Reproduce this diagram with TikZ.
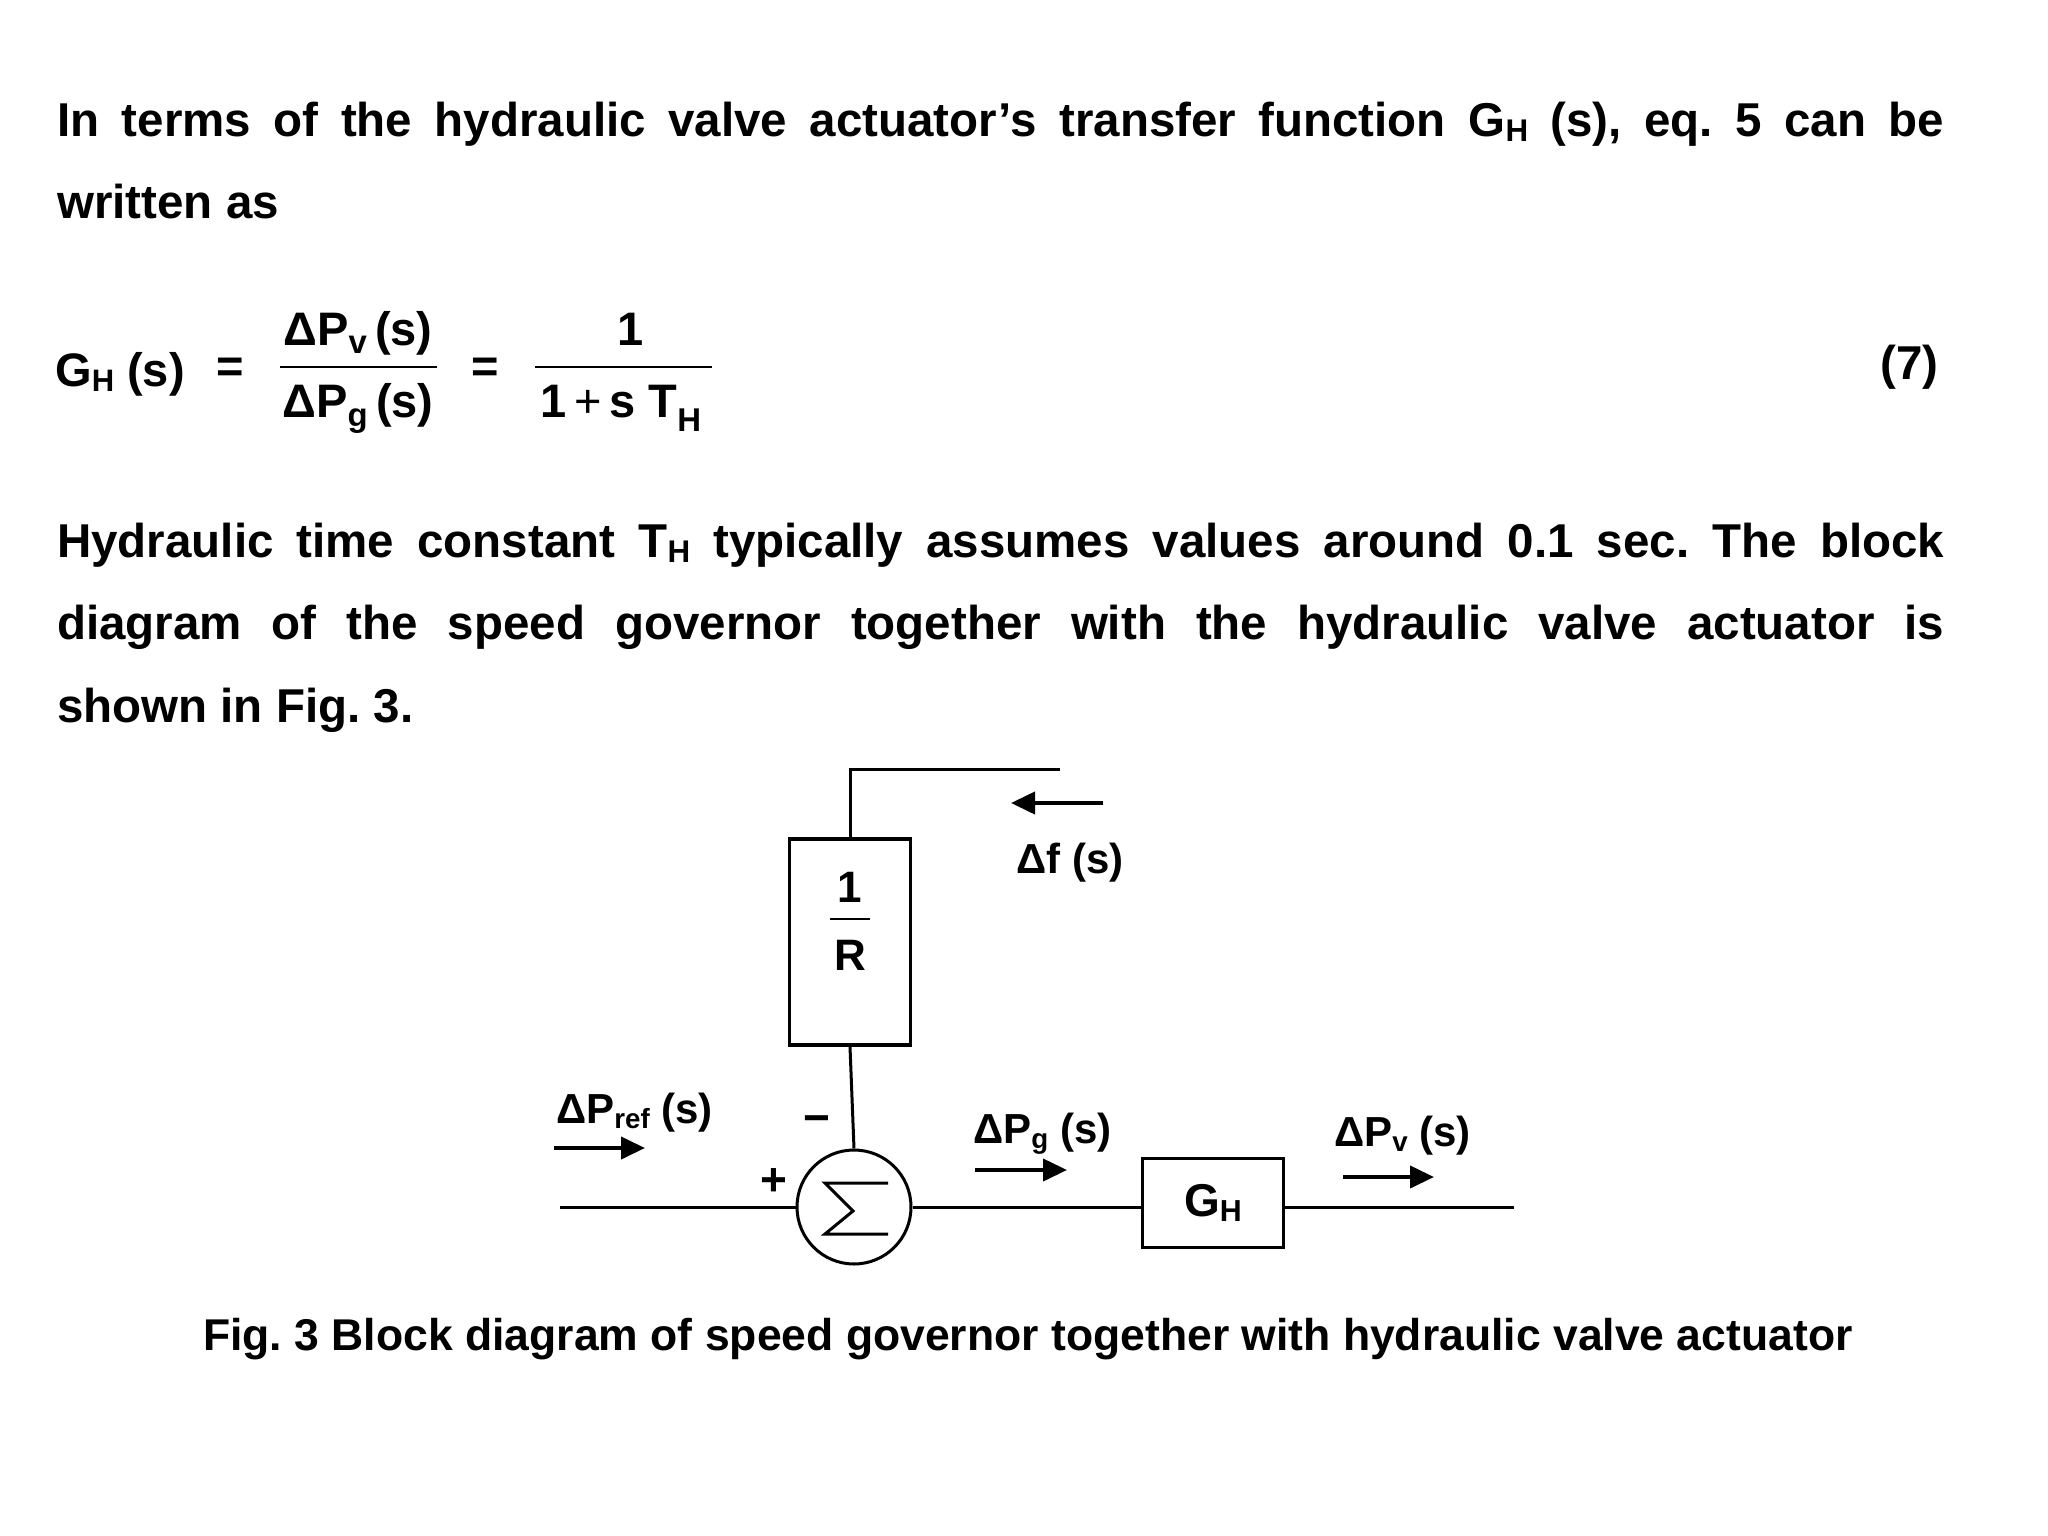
\documentclass[tikz,border=0pt]{standalone}
\usepackage{fontspec}
\setmainfont{Liberation Sans}
\usetikzlibrary{arrows.meta}

\frenchspacing
\newcommand{\bodysize}{\fontsize{47.5}{82.5}\selectfont\bfseries\tolerance=10000\hyphenpenalty=10000}
\newcommand{\eqsize}{\fontsize{47}{52}\selectfont\bfseries}
\newcommand{\labsize}{\fontsize{42}{48}\selectfont\bfseries}
\newcommand{\capsize}{\fontsize{44.5}{50}\selectfont\bfseries}
% small, slightly lowered index as in the scan
\newcommand{\sub}[1]{\raisebox{-0.12em}{\fontsize{\the\dimexpr0.66\fontdimen6\font\relax}{0pt}\selectfont #1}}

\begin{document}
\begin{tikzpicture}[x=1pt, y=-1pt,
    para/.style = {anchor=base west, inner sep=0pt, text width=1887pt, align=justify, font=\bodysize},
    txt/.style = {inner sep=0pt, font=\eqsize},
    lab/.style = {anchor=base west, inner sep=0pt, font=\labsize},
    block/.style = {draw, line width=3.3pt, inner sep=0pt},
    wire/.style = {line width=3pt},
    bar/.style = {line width=2.5pt},
    sig/.style = {line width=4pt, -{Triangle[length=24pt, width=22pt]}}]
    \useasboundingbox (0,0) rectangle (2048,1536);

    % text above the figure
    \node[para] (p1) at (57,136) {In terms of the hydraulic valve actuator's transfer function G\sub{H} (s), eq. 5 can be\linebreak written as};

    \node[txt, anchor=base west] (Gs) at (55,386) {G\sub{H} (s)};
    \node[txt] (eqA) at (230,370) {=};
    \node[txt, anchor=base] (numA) at (358,345) {ΔP\textsubscript{v}\,(s)};
    \node[txt, anchor=base] (denA) at (358,417) {ΔP\textsubscript{g}\,(s)};
    \node[txt] (eqB) at (485,370) {=};
    \node[txt, anchor=base] (numB) at (631,345) {1};
    \node[txt, anchor=base] (denB) at (621,417) {1\,{\mdseries+}\,s T\textsubscript{H}};
    \node[txt, anchor=base east, font=\bodysize] (eqno) at (1939,379) {(7)};
    \coordinate (barA1) at (280,367);
    \coordinate (barA2) at (437,367);
    \coordinate (barB1) at (535,367);
    \coordinate (barB2) at (712,367);
    \draw[bar] (barA1) -- (barA2);
    \draw[bar] (barB1) -- (barB2);

    \node[para] (p2) at (57,557) {Hydraulic time constant T\sub{H} typically assumes values around 0.1 sec. The block\linebreak diagram of the speed governor together with the hydraulic valve actuator is\linebreak shown in Fig. 3.};

    % block diagram
    \node[block, minimum width=121pt, minimum height=206pt] (R) at (850,942) {};
    \node[lab, anchor=base, font=\fontsize{44}{48}\selectfont\bfseries] (one) at (850,902) {1};
    \node[lab, anchor=base, font=\fontsize{44}{48}\selectfont\bfseries] (rr) at (850,970) {R};
    \coordinate (barR1) at (830,919);
    \coordinate (barR2) at (870,919);
    \draw[bar] (barR1) -- (barR2);

    \node[draw, circle, line width=3pt, minimum size=114pt, inner sep=0pt] (sum) at (854,1207) {};
    \draw[wire, shift={(sum.center)}] (34,-24) -- (-29,-24) -- (-1,4) -- (-29,27) -- (34,27);

    \node[block, minimum width=141pt, minimum height=89pt, font=\fontsize{46}{50}\selectfont\bfseries] (GH) at (1213,1203) {G\sub{H}};

    \coordinate (fb) at (1060,769);
    \coordinate (in) at (560,1207);
    \coordinate (out) at (1514,1207);

    \draw[wire] (fb) -| (R.north);
    \draw[wire] (R.south) -- (sum.north);
    \draw[wire] (in) -- (sum.west);
    \draw[wire] (sum.east) -- (GH.west |- sum.east);
    \draw[wire] (GH.east |- out) -- (out);

    \node[lab, anchor=center, font=\fontsize{46}{50}\selectfont\bfseries] (minus) at (817,1125) {−};
    \node[lab, anchor=center, font=\fontsize{46}{50}\selectfont\bfseries] (plus) at (774,1182) {+};

    \node[lab] (lref) at (556,1123) {ΔP\sub{ref} (s)};
    \node[lab] (lg) at (973,1143) {ΔP\sub{g} (s)};
    \node[lab] (lv) at (1334,1146) {ΔP\sub{v} (s)};
    \node[lab] (lf) at (1016,873) {Δf (s)};

    \coordinate (aref1) at (554,1148);
    \coordinate (aref2) at (645,1148);
    \coordinate (ag1) at (975,1170);
    \coordinate (ag2) at (1067,1170);
    \coordinate (av1) at (1343,1177);
    \coordinate (av2) at (1434,1177);
    \coordinate (af1) at (1103,803);
    \coordinate (af2) at (1011,803);
    \draw[sig] (aref1) -- (aref2);
    \draw[sig] (ag1) -- (ag2);
    \draw[sig] (av1) -- (av2);
    \draw[sig] (af1) -- (af2);

    \node[anchor=base west, inner sep=0pt, font=\capsize] (cap) at (203,1350) {Fig. 3 Block diagram of speed governor together with hydraulic valve actuator};
\end{tikzpicture}
\end{document}
